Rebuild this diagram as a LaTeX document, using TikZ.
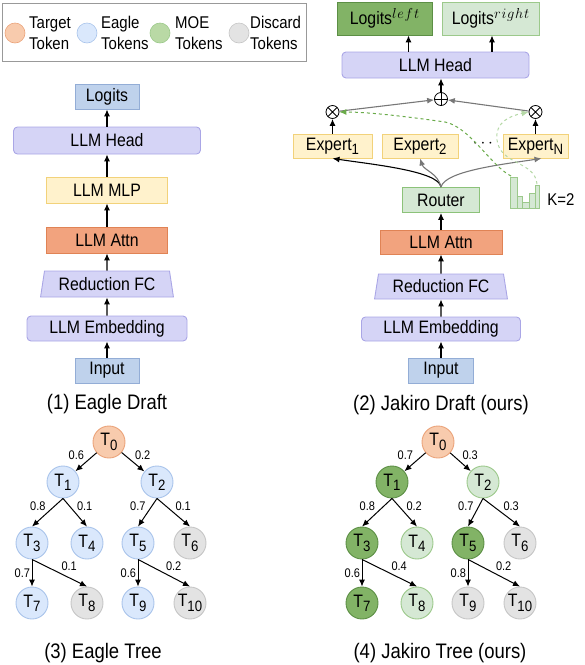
\documentclass[tikz,border=0pt]{standalone}
\usepackage{fontspec}
\setmainfont[FakeStretch=0.88]{Liberation Sans}
\usetikzlibrary{shapes.geometric,arrows.meta}
\definecolor{tgtF}{HTML}{F8CBAD}
\definecolor{tgtD}{HTML}{EBA37A}
\definecolor{eglF}{HTML}{DAE8FC}
\definecolor{eglD}{HTML}{A9C4EB}
\definecolor{moeF}{HTML}{82B366}
\definecolor{moeD}{HTML}{5C8F45}
\definecolor{moeM}{HTML}{B9D9A5}
\definecolor{moeLF}{HTML}{D5E8D4}
\definecolor{moeLD}{HTML}{9CC98B}
\definecolor{dscF}{HTML}{E3E3E3}
\definecolor{dscD}{HTML}{C6C6C6}
\definecolor{lgtF}{HTML}{BFD2EC}
\definecolor{lgtD}{HTML}{93ADD6}
\definecolor{hdF}{HTML}{D5D4F6}
\definecolor{hdD}{HTML}{AAA6E6}
\definecolor{mlpF}{HTML}{FFF2CC}
\definecolor{mlpD}{HTML}{F2D27A}
\definecolor{attF}{HTML}{F2A37E}
\definecolor{attD}{HTML}{E08355}
\definecolor{rtD}{HTML}{8CC279}
\definecolor{arrG}{HTML}{777777}
\definecolor{dashD}{HTML}{6AAB4A}
\definecolor{dashL}{HTML}{B5D8A6}
\newcommand\idx[1]{\raisebox{-0.45ex}{\fontsize{15}{15}\selectfont #1}}
\newcommand\upidx[1]{\raisebox{6pt}{\fontsize{15}{15}\selectfont$#1$}}
\begin{document}
\begin{tikzpicture}[x=1pt, y=-1pt,
    every node/.style={inner sep=0pt, font=\fontsize{18}{21}\selectfont},
    blk/.style={draw, line width=0.9pt, minimum height=25pt},
    lgbox/.style={blk, fill=lgtF, draw=lgtD},
    hdbox/.style={blk, fill=hdF, draw=hdD, rounded corners=4pt},
    mlpbox/.style={blk, fill=mlpF, draw=mlpD},
    attbox/.style={blk, fill=attF, draw=attD},
    rtbox/.style={blk, fill=moeLF, draw=rtD},
    redbox/.style={trapezium, trapezium angle=77, trapezium stretches=true, fill=hdF, draw=hdD, line width=0.9pt, minimum height=26pt},
    tok/.style={circle, draw, line width=0.9pt, minimum size=32pt, font=\fontsize{18}{18}\selectfont},
    tgt/.style={tok, fill=tgtF, draw=tgtD},
    egl/.style={tok, fill=eglF, draw=eglD},
    moe/.style={tok, fill=moeF, draw=moeD},
    moel/.style={tok, fill=moeLF, draw=moeLD},
    dsc/.style={tok, fill=dscF, draw=dscD},
    dot/.style={circle, minimum size=20pt, line width=0.6pt},
    legtxt/.style={anchor=west, align=left, font=\fontsize{17}{21}\selectfont},
    lbl/.style={font=\fontsize{12.5}{13}\selectfont, inner sep=1.5pt},
    captxt/.style={font=\fontsize{21}{24}\selectfont},
    arr/.style={-{Latex[length=7pt,width=6pt]}, line width=1.1pt},
    garr/.style={arr, color=arrG},
    tarr/.style={-{Latex[length=7pt,width=6pt]}, line width=1pt},
    bar/.style={fill=moeLF, draw=moeLD, line width=0.7pt},
    opl/.style={circle, draw, line width=0.8pt, minimum size=13pt, path picture={
      \draw[line width=0.8pt] (path picture bounding box.north) -- (path picture bounding box.south)
        (path picture bounding box.west) -- (path picture bounding box.east);}},
    otm/.style={circle, draw, line width=0.8pt, minimum size=13pt, path picture={
      \draw[line width=0.8pt] (path picture bounding box.north west) -- (path picture bounding box.south east)
        (path picture bounding box.south west) -- (path picture bounding box.north east);}}]
  \useasboundingbox (0,0) rectangle (585,665);
  \draw[gray!80, line width=0.8pt] (2,3) rectangle (306,61);
  \node (lg1) at (15,33) [dot, fill=tgtF, draw=tgtD] {};
  \node (lg1t) at (29,33) [legtxt] {Target\\Token};
  \node (lg2) at (87,33) [dot, fill=eglF, draw=eglD] {};
  \node (lg2t) at (101,33) [legtxt] {Eagle\\Tokens};
  \node (lg3) at (160,33) [dot, fill=moeM, draw=moeLD] {};
  \node (lg3t) at (175,33) [legtxt] {MOE\\Tokens};
  \node (lg4) at (239,33) [dot, fill=dscF, draw=dscD] {};
  \node (lg4t) at (250,33) [legtxt] {Discard\\Tokens};

  \node (inA) at (107,370.5) [lgbox, minimum width=64pt] {Input};
  \node (embA) at (107,328.5) [hdbox, minimum width=160pt] {LLM Embedding};
  \node (redA) at (107,284) [redbox, minimum width=133pt] {Reduction FC};
  \node (attA) at (107,240) [attbox, minimum width=121pt, minimum height=26pt] {LLM Attn};
  \node (mlpA) at (107,190) [mlpbox, minimum width=121pt, minimum height=26pt] {LLM MLP};
  \node (hdA) at (107,140.5) [hdbox, minimum width=187pt, minimum height=27pt] {LLM Head};
  \node (lgA) at (107,96.5) [lgbox, minimum width=64pt] {Logits};
  \node (capA) at (107,404) [captxt] {(1) Eagle Draft};

  \node (inB) at (441,370.5) [lgbox, minimum width=65pt] {Input};
  \node (embB) at (441,329) [hdbox, minimum width=159pt, minimum height=24pt] {LLM Embedding};
  \node (redB) at (441,286.5) [redbox, minimum width=133pt, minimum height=25pt] {Reduction FC};
  \node (attB) at (441,242) [attbox, minimum width=122pt, minimum height=24pt] {LLM Attn};
  \node (rtB) at (441,200) [rtbox, minimum width=77pt] {Router};
  \node (ex1) at (332.5,146) [mlpbox, minimum width=79pt, minimum height=24pt] {Expert\idx{1}};
  \node (ex2) at (420,146) [mlpbox, minimum width=76pt, minimum height=24pt] {Expert\idx{2}};
  \node (exN) at (535.5,146) [mlpbox, minimum width=65pt, minimum height=24pt] {Expert\idx{N}};
  \node (dots) at (483,144) {$\cdots$};
  \node (otL) at (332.5,112) [otm] {};
  \node (otR) at (535.5,112) [otm] {};
  \node (plus) at (441,99) [opl] {};
  \node (hdB) at (435.5,65) [hdbox, minimum width=187pt, minimum height=26pt] {LLM Head};
  \node (lgL) at (384.5,18.5) [blk, fill=moeF, draw=moeD, minimum width=95pt, minimum height=33pt] {Logits\upidx{l\mkern1mu e\mkern1mu f\mkern1mu t}};
  \node (lgR) at (490.5,18.5) [blk, fill=moeLF, draw=moeLD, minimum width=97pt, minimum height=33pt] {Logits\upidx{r\mkern1mu i\mkern1mu g\mkern1mu h\mkern1mu t}};
  \node (kk) at (561,200) [font=\fontsize{17}{17}\selectfont] {K=2};
  \node (capB) at (441,405) [captxt] {(2) Jakiro Draft (ours)};

  \foreach \xa/\xb/\ht in {510/517/177, 517/522/196, 522/529/202, 529/535/193, 535/539/185}
    \draw[bar] (\xa,208) rectangle (\xb,\ht);
  \coordinate (hL) at (511,176);
  \coordinate (hR) at (537,184);
  \coordinate (dkw) at (445,122);
  \coordinate (ltw) at (497,140);

  \foreach \source/\dest in {inA/embA, embA/redA, redA/attA, attA/mlpA, mlpA/hdA, hdA/lgA, inB/embB, embB/redB, redB/attB, attB/rtB, ex1/otL, exN/otR}
    \draw[arr] (\source) -- (\dest);
  \draw[arr] (plus) -- (plus |- hdB.south);
  \draw[arr] ([xshift=24pt]lgL.south |- hdB.north) -- ([xshift=24pt]lgL.south);
  \draw[arr] ([xshift=1.5pt]lgR.south |- hdB.north) -- ([xshift=1.5pt]lgR.south);
  \draw[garr] (otL) -- (plus);
  \draw[garr] (otR) -- (plus);
  \draw[arr] (rtB.north) .. controls +(-2,-16) and +(40,6) .. (ex1.south);
  \draw[garr] (rtB.north) .. controls +(-3,-14) and +(4,12) .. (ex2.south);
  \draw[garr] (rtB.north) .. controls +(4,-16) and +(-40,6) .. ([xshift=6pt]exN.south);
  \draw[arr, color=dashD, dashed, line width=1pt] (hL) .. controls +(-20,-10) and +(25,5) .. (dkw) .. controls +(-35,-5) and +(30,0) .. (otL.east);
  \draw[arr, color=dashL, dashed, line width=1pt] (hR) .. controls +(-2,-23) and +(3,25) .. (ltw) .. controls +(-2,-18) and +(-19,4) .. (otR.west);

  \node (e0) at (109,442) [tgt] {T\idx{0}};
  \node (e1) at (63,482) [egl] {T\idx{1}};
  \node (e2) at (157,482) [egl] {T\idx{2}};
  \node (e3) at (32,543) [egl] {T\idx{3}};
  \node (e4) at (87,543) [egl] {T\idx{4}};
  \node (e5) at (138,543) [egl] {T\idx{5}};
  \node (e6) at (190,543) [dsc] {T\idx{6}};
  \node (e7) at (32,603) [egl] {T\idx{7}};
  \node (e8) at (87,603) [dsc] {T\idx{8}};
  \node (e9) at (138,603) [egl] {T\idx{9}};
  \node (e10) at (190,603) [dsc] {T\idx{10}};
  \node (capC) at (103,653) [captxt] {(3) Eagle Tree};

  \node (j0) at (438,442) [tgt] {T\idx{0}};
  \node (j1) at (392,482) [moe] {T\idx{1}};
  \node (j2) at (483,482) [moel] {T\idx{2}};
  \node (j3) at (362,543) [moe] {T\idx{3}};
  \node (j4) at (417,543) [moel] {T\idx{4}};
  \node (j5) at (468,543) [moe] {T\idx{5}};
  \node (j6) at (520,543) [dsc] {T\idx{6}};
  \node (j7) at (362,603) [moe] {T\idx{7}};
  \node (j8) at (417,603) [moel] {T\idx{8}};
  \node (j9) at (468,603) [dsc] {T\idx{9}};
  \node (j10) at (520,603) [dsc] {T\idx{10}};
  \node (capD) at (440,653) [captxt] {(4) Jakiro Tree (ours)};

  \foreach \source/\dest/\p/\an in {e0/e1/0.6/south east, e0/e2/0.2/south west,
      e1.south/e3.north/0.8/south east, e1.south/e4.north/0.1/south west,
      e2.south/e5.north/0.7/south east, e2.south/e6.north/0.1/south west,
      e3.south/e7.north/0.7/east, e3.south/e8.north/0.1/south west,
      e5.south/e9.north/0.6/east, e5.south/e10.north/0.2/south west,
      j0/j1/0.7/south east, j0/j2/0.3/south west,
      j1.south/j3.north/0.8/south east, j1.south/j4.north/0.2/south west,
      j2.south/j5.north/0.7/south east, j2.south/j6.north/0.3/south west,
      j3.south/j7.north/0.6/east, j3.south/j8.north/0.4/south west,
      j5.south/j9.north/0.8/east, j5.south/j10.north/0.2/south west}
    \draw[tarr] (\source) -- node[lbl, anchor=\an] {\p} (\dest);
\end{tikzpicture}
\end{document}
